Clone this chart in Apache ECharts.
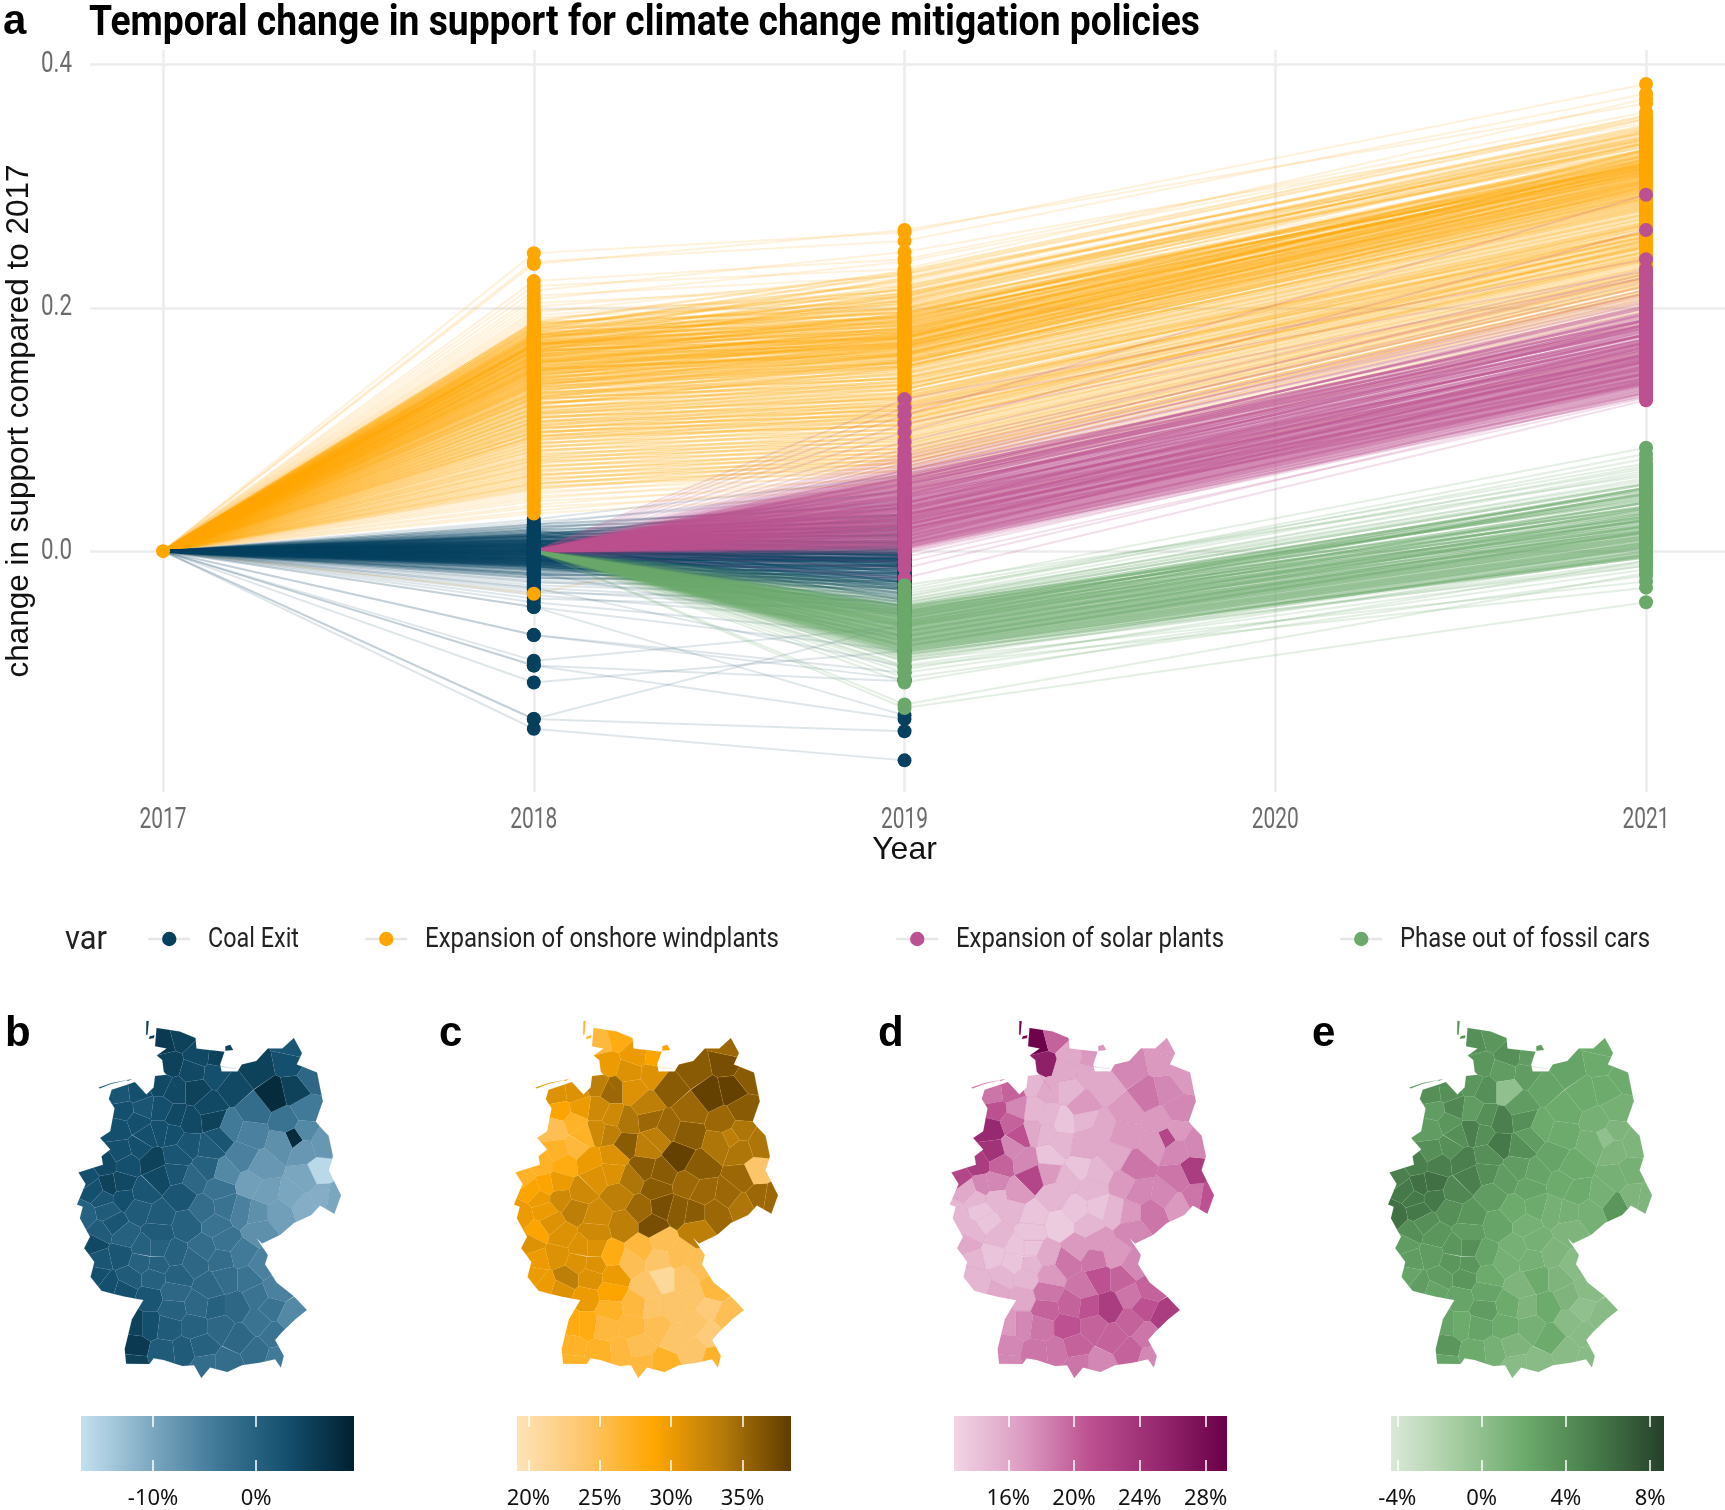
<!DOCTYPE html>
<html>
<head>
<meta charset="utf-8">
<style>html,body{margin:0;padding:0;background:#fff}#chart{width:1725px;height:1510px}</style>
<script src="https://cdn.jsdelivr.net/npm/echarts@6/dist/echarts.min.js"></script>
</head>
<body>
<div id="chart"></div>
<script>
// Change in support per district, in thousandths, relative to 2017.
// Wind: [2018, 2019, 2021]
const windFringe = [[245,262,384],[238,255,376],[236,264,368],[222,240,361],[218,232,372],[214,246,352],[210,226,344],[207,238,356],[204,218,338],[201,224,347],[198,209,340],[196,228,332],[194,214,335],[192,205,326],[190,220,341],[49,63,204],[47,70,208],[45,60,200],[43,66,205],[41,56,197],[38,62,202],[36,52,193],[33,58,198],[31,48,188],[-35,30,165]];
const windCore = [[188,199,322],[186,212,330],[184,203,318],[183,196,329],[181,208,336],[180,192,314],[178,201,325],[177,188,321],[176,197,317],[175,206,333],[173,185,312],[172,194,327],[171,182,309],[170,191,320],[169,199,316],[168,179,306],[167,187,323],[166,193,311],[165,176,304],[164,189,315],[163,183,319],[162,174,302],[161,186,313],[160,178,308],[159,195,328],[158,172,300],[157,181,310],[156,169,298],[155,177,305],[154,184,316],[153,167,296],[152,175,303],[151,171,307],[150,163,292],[149,179,312],[148,165,299],[147,172,301],[146,160,290],[145,168,297],[144,175,309],[143,158,288],[142,166,294],[141,170,304],[140,155,286],[139,163,293],[138,152,283],[137,161,291],[136,168,300],[135,150,281],[134,157,287],[133,147,278],[132,155,285],[131,162,295],[130,145,276],[129,152,282],[128,142,273],[127,149,280],[126,156,289],[125,139,270],[124,146,277],[122,136,268],[121,143,274],[120,151,284],[118,133,265],[117,140,271],[116,128,262],[114,137,269],[113,125,259],[112,133,266],[110,122,256],[109,130,263],[107,119,253],[106,127,260],[104,116,250],[103,124,258],[101,113,247],[100,121,255],[98,110,244],[97,118,251],[95,107,241],[94,115,249],[92,104,239],[91,112,246],[89,100,236],[88,108,243],[86,97,233],[85,105,240],[83,93,230],[82,101,238],[80,90,228],[78,98,234],[77,87,225],[75,95,231],[74,84,223],[72,92,228],[70,81,220],[69,88,226],[67,78,218],[65,85,224],[63,75,215],[62,82,221],[60,72,212],[58,79,218],[56,69,210],[55,76,214],[53,66,207],[51,73,212],[178,196,318],[174,192,322],[171,188,314],[169,190,325],[166,186,317],[164,183,312],[161,180,320],[159,178,310],[157,176,315],[155,173,306],[153,171,311],[151,169,302],[149,166,308],[147,164,298],[145,162,305],[143,160,296],[141,158,303],[139,156,293],[137,154,300],[135,152,290],[170,180,330],[165,175,326],[160,170,322],[155,168,318],[150,161,314],[175,200,335],[168,194,330],[162,190,324],[156,182,319],[148,176,316],[130,142,262],[126,137,258],[122,134,268],[118,130,254],[114,126,262],[110,120,250],[106,116,256],[102,112,246],[98,108,252],[94,103,242],[186,215,345],[184,222,350],[180,218,340],[178,210,344],[176,224,348],[172,212,338],[170,206,342],[182,228,355],[188,230,358],[174,216,346],[169,204,336],[165,210,339]];
// Coal: [2018, 2019]
const coalCore = [[14,30],[13,20],[12,26],[11,16],[10,22],[9,13],[8,18],[8,8],[7,14],[6,4],[6,11],[5,1],[5,8],[4,-2],[4,6],[3,-4],[3,3],[2,-1],[2,-7],[1,1],[1,-9],[0,-3],[0,-11],[-1,-1],[-1,-6],[-2,-13],[-2,-3],[-3,-8],[-3,-16],[-4,-5],[-4,-11],[-5,-19],[-5,-7],[-6,-14],[-6,-22],[-7,-9],[-7,-17],[-8,-25],[-8,-12],[-9,-20],[-10,-28],[-10,-15],[-11,-23],[-12,-31],[-13,-18],[-14,-26],[12,6],[9,2],[6,-4],[3,-10],[0,-6],[-3,-2],[-6,-8],[-9,-5],[-11,-12]];
const coalMid = [[22,38],[20,30],[18,24],[16,18],[15,12],[-15,-12],[-16,-20],[-18,-14],[-19,-22],[-20,-18],[-22,-25],[12,-18],[8,-22],[4,-25],[0,-28],[-4,-30],[-8,-32],[-12,-34],[10,-30],[6,-35],[2,-38],[-2,-40],[-6,-42],[-10,-45],[14,-26],[17,-14],[13,42],[10,50],[7,36],[4,28],[1,20],[-2,14],[-5,10],[-8,5],[-11,2],[-13,-6],[5,-32],[1,-45],[-3,-48],[-7,-36],[-12,-52],[9,-40]];
const coalFringe = [[26,62],[24,48],[22,55],[20,40],[19,34],[18,44],[17,28],[16,36],[15,24],[-15,-34],[-16,-21],[-17,-29],[-18,-37],[-19,-24],[-20,-32],[-21,-40],[-22,-27],[-24,-35],[-25,-43],[-26,-30],[-28,-38],[-30,-46],[-32,-52],[-34,-41],[-36,-60],[-39,-48],[-42,-70],[-46,-82],[-69,-100],[-90,-62],[-94,-107],[-108,-82],[-138,-60],[-146,-172],[-138,-148],[-94,-138],[-69,-105],[-46,-135],[-30,-95],[-18,-70],[-10,-50]];
// Solar: [2019, 2021]
const solarCore = [[60,194],[59,202],[57,190],[56,196],[55,187],[53,192],[52,183],[51,189],[50,180],[48,186],[47,177],[46,184],[45,174],[44,181],[42,171],[41,178],[40,168],[39,175],[38,166],[37,172],[36,164],[35,170],[34,162],[33,168],[32,160],[31,165],[30,158],[29,163],[28,156],[27,161],[26,154],[25,159],[24,152],[23,157],[22,150],[21,155],[20,148],[19,153],[18,146],[17,151],[16,144],[15,149],[14,142],[13,147],[12,140],[11,145],[10,138],[9,143],[8,136],[7,141],[6,134],[5,139],[4,132],[3,137],[2,130],[66,190],[63,186],[61,200],[58,182],[54,195],[49,178],[46,190],[43,174],[39,186],[36,170],[33,178],[30,162],[27,172],[24,158],[21,168],[18,152],[15,162],[12,146],[9,156],[6,140],[30,150],[26,146],[22,142],[18,138],[35,156],[40,160],[44,166],[50,172],[55,178],[60,184]];
const solarFringe = [[125,240],[118,230],[112,293],[105,225],[98,264],[90,232],[84,225],[78,218],[75,212],[72,206],[70,210],[68,201],[66,204],[64,197],[62,199],[0,135],[-2,128],[-5,133],[-9,126],[-14,130],[-22,124],[80,228],[76,222],[72,215],[69,212],[67,208],[64,205],[-1,131],[1,128],[3,127],[5,130]];
// Fossil cars: [2019, 2021]
const carsCore = [[-45,55],[-46,42],[-47,50],[-48,36],[-49,47],[-50,32],[-51,44],[-52,28],[-53,40],[-54,25],[-55,37],[-56,22],[-57,34],[-58,20],[-59,31],[-60,17],[-61,28],[-62,15],[-63,26],[-64,12],[-65,24],[-66,10],[-67,21],[-68,8],[-69,18],[-70,6],[-71,16],[-72,4],[-73,14],[-74,2],[-75,12],[-76,0],[-77,10],[-78,-2],[-79,7],[-80,-4],[-81,5],[-82,-5],[-83,3],[-85,-3],[-60,40],[-58,48],[-62,35],[-66,30],[-70,26],[-74,20],[-78,16],[-55,52],[-52,46],[-50,52]];
const carsFringe = [[-28,62],[-31,85],[-33,72],[-35,68],[-37,80],[-38,76],[-40,70],[-42,64],[-88,-10],[-91,0],[-94,-12],[-97,-3],[-100,-15],[-104,-20],[-108,-8],[-129,-42],[-126,-18],[-90,-25],[-95,-30],[-40,58],[-42,56],[-43,66],[-44,60],[-86,-5],[-87,0],[-84,-12],[-88,-8],[-90,4]];

const years = [2017, 2018, 2019, 2020, 2021];
const yTicks = [0, 0.2, 0.4];
const policyNames = ['Coal Exit', 'Expansion of onshore windplants', 'Expansion of solar plants', 'Phase out of fossil cars'];

// Districts, listed state by state; the arrays below run in the same order.
const districtNames = [
 'Nordfriesland','Flensburg','Kiel','Dithmarschen','Neumünster','Lübeck','Ostholstein',
 'Hamburg','Stade','Lüneburg','Cuxhaven','Bremen','Oldenburg','Wilhelmshaven','Aurich','Leer','Emsland','Cloppenburg','Vechta','Osnabrück','Diepholz','Verden','Heidekreis','Uelzen','Hannover','Nienburg','Hameln','Braunschweig','Wolfsburg','Göttingen','Goslar','Höxter',
 'Borken','Steinfurt','Münster','Bielefeld','Paderborn','Dortmund','Essen','Kleve','Krefeld','Düsseldorf','Aachen','Köln','Bonn','Euskirchen','Sauerland','Siegen','Hagen',
 'Kassel','Marburg','Fulda','Frankfurt','Wiesbaden','Darmstadt','Gießen',
 'Koblenz','Trier','Bitburg','Hunsrück','Mainz','Kaiserslautern','Pirmasens','Saarbrücken','Merzig',
 'Mannheim','Karlsruhe','Heilbronn','Odenwald','Stuttgart','Ostalb','Freudenstadt','Offenburg','Freiburg','Lörrach','Konstanz','Tübingen','Ulm','Ravensburg',
 'Würzburg','Aschaffenburg','Schweinfurt','Coburg','Bayreuth','Nürnberg','Ansbach','Bamberg','Amberg','Weiden','Regensburg','Cham','Ingolstadt','Augsburg','Donauwörth','Landshut','Straubing','Passau','Altötting','München','Memmingen','Kempten','Garmisch','Rosenheim','Berchtesgaden',
 'Erfurt','Eisenach','Nordhausen','Suhl','Jena','Gera',
 'Leipzig','Chemnitz','Plauen','Dresden','Bautzen','Görlitz','Meißen',
 'Magdeburg','Salzwedel','Stendal','Halle','Harz','Dessau',
 'Berlin','Cottbus','Elbe-Elster','Potsdam','Prignitz','Neuruppin','Uckermark','Frankfurt (Oder)','Barnim','Dahme',
 'Schwerin','Rostock','Müritz','Neubrandenburg','Vorpommern','Rügen','Usedom'];
const districtLon = [
 8.9,9.5,10.1,9.1,9.9,10.7,10.8,
 10.0,9.3,10.5,8.8,8.8,8.2,8.0,7.4,7.5,7.35,8.0,8.3,8.05,8.8,9.3,9.8,10.6,9.75,9.2,9.35,10.5,10.8,9.95,10.4,9.3,
 6.85,7.45,7.65,8.5,8.75,7.45,7.0,6.2,6.55,6.8,6.15,6.95,7.15,6.7,8.2,8.05,7.5,
 9.5,8.75,9.7,8.7,8.2,8.7,8.7,
 7.55,6.7,6.5,7.4,8.1,7.7,7.5,7.0,6.6,
 8.55,8.4,9.25,9.35,9.2,10.1,8.4,7.95,7.85,7.8,8.9,9.05,9.95,9.6,
 9.95,9.25,10.3,11.0,11.6,11.05,10.5,10.9,11.85,12.25,12.15,12.75,11.4,10.85,10.7,12.15,12.6,13.3,12.7,11.55,10.2,10.3,11.1,12.1,12.85,
 11.0,10.3,10.8,10.7,11.6,12.1,
 12.4,12.9,12.2,13.75,14.35,14.85,13.35,
 11.6,11.2,11.9,11.95,11.0,12.3,
 13.4,14.3,13.8,13.05,12.0,13.15,13.8,14.4,13.75,13.7,
 11.3,12.1,12.7,13.4,13.3,13.4,14.0];
const districtLat = [
 54.6,54.7,54.3,54.1,53.95,53.9,54.25,
 53.55,53.55,53.2,53.7,53.1,53.15,53.5,53.45,53.1,52.7,52.85,52.55,52.3,52.65,52.95,52.85,52.9,52.37,52.6,52.1,52.3,52.5,51.6,51.85,51.75,
 51.95,52.2,51.95,52.0,51.65,51.5,51.45,51.65,51.35,51.2,50.8,50.9,50.65,50.45,51.3,50.95,51.2,
 51.25,50.8,50.6,50.1,50.1,49.75,50.45,
 50.35,49.85,50.2,49.95,49.8,49.45,49.2,49.3,49.5,
 49.45,49.0,49.15,49.5,48.75,48.85,48.45,48.45,47.95,47.6,47.8,48.4,48.4,47.85,
 49.8,49.95,50.1,50.25,49.95,49.45,49.25,49.85,49.45,49.7,49.05,49.2,48.8,48.4,48.8,48.5,48.8,48.6,48.2,48.15,47.95,47.55,47.55,47.85,47.7,
 51.0,50.95,51.4,50.6,50.9,50.85,
 51.35,50.85,50.5,51.05,51.25,51.2,51.25,
 52.1,52.75,52.6,51.5,51.75,51.85,
 52.5,51.75,51.6,52.4,53.1,52.85,53.1,52.4,52.65,52.25,
 53.6,54.0,53.45,53.55,54.15,54.45,53.85];
// Change from 2017 to 2021 per district, percent.
const coalByDistrict = [
 6,5,4,5,4,3,5,
 5,4,4,4,3,2,3,2,3,3,3,3,3,3,4,4,5,2,3,2,1,2,-1,0,2,
 4,3,3,5,4,4,5,3,3,2,0,1,2,1,2,1,3,
 2,1,0,0,0,0,1,
 0,2,4,2,0,1,3,3,3,
 0,2,-1,0,0,-1,3,5,6,5,1,1,0,1,
 -1,0,-2,-3,-4,-2,-1,-2,-3,-5,-3,-5,-1,-1,0,-3,-3,-6,-3,-1,0,-2,-2,-2,-4,
 -3,-2,-3,-3,-5,-7,
 -9,-9,-7,-11,-11,-10,-10,
 -5,-4,-5,-9,-6,-8,
 8,-16,-10,-7,-2,-3,-4,-8,-6,-8,
 4,5,8,5,3,2,-1];
const windByDistrict = [
 26,28,30,30,31,31,29,
 31,35,33,33,32,30,31,31,29,25,27,27,26,32,32,34,35,36,33,31,33,33,34,36,31,
 27,27,28,30,31,30,29,27,29,30,30,30,31,29,32,33,32,
 33,32,33,31,31,31,32,
 31,30,31,31,31,33,31,30,30,
 31,30,29,30,27,26,28,28,27,27,27,26,26,26,
 25,28,26,25,25,21,24,24,24,25,24,26,24,25,24,24,23,25,23,24,25,26,27,24,27,
 37,35,36,37,36,36,
 35,35,33,34,35,35,35,
 38,35,36,35,36,36,
 33,24,35,34,35,35,36,34,34,34,
 36,36,38,38,37,35,36];
const solarByDistrict = [
 29,20,16,26,16,16,17,
 15,16,17,15,15,18,20,19,21,25,20,21,18,16,15,14,15,15,15,14,16,16,15,14,17,
 23,24,20,18,22,18,18,22,16,15,15,14,14,15,17,15,15,
 15,14,13.5,14,14,15,14,
 15,15,16,14,14,15,16,15,15,
 15,16,19,17,20,20,18,17,18,18,19,19,21,19,
 19,16,17,17,17,21,19,19,20,18,19,20,23,20,21,20,21,23,19,20,20,19,18,20,18,
 14,14,15,15,15,17,
 18,19,18,17,19,21,18,
 16,16,17,17,15,19,
 22,23,19,17,17,17,18,18,17,18,
 16,18,19,18,17,17,17];
const carsByDistrict = [
 4,3.5,4,3.5,3,3,3,
 0,4,3,3.5,3,4.5,4,4,3,3,3.5,4,4,5,4,5,4,5.5,4,4,4,3,3,3,4,
 5,4,5,5,5,6,6,5,5.5,5.5,6,5.5,4,4,4.5,4,5.5,
 3,3.5,2.5,4,3.5,3.5,3,
 3.5,3,3,3,3.5,3,2.5,3,2.5,
 3.5,2.5,2.5,2,3,2,2,2.5,3.5,2.5,2,2.5,2,1.5,
 1.5,2.5,1.5,1.5,1,2,1,1.5,1,0.5,1,0.5,2,1.5,1,0.5,0,0.5,0.5,2,1,0.5,0.5,0.5,0.5,
 2,2,2.5,1.5,1.5,1.5,
 2,1.5,1,3.5,1,1,1.5,
 2.5,2,2,2,2.5,2,
 0,1.5,1.5,1.5,2,1.5,1.5,1,1,1,
 2.5,2.5,2,2,2,2,2];

// Coastline and national border, lon/lat.
const germanyMainland = [[8.65,54.9],[9.45,54.82],[10.0,54.68],[10.03,54.45],[10.3,54.43],[11.0,54.38],[10.85,54.1],[10.9,53.95],[11.45,53.95],[11.6,54.1],[12.1,54.18],[12.5,54.45],[13.0,54.45],[13.4,54.68],[13.68,54.35],[13.5,54.1],[14.2,53.93],[14.4,53.3],[14.15,52.85],[14.6,52.55],[14.75,52.1],[14.6,51.8],[15.03,51.25],[14.8,50.85],[14.3,51.03],[14.0,50.82],[13.4,50.65],[12.95,50.4],[12.3,50.2],[12.1,50.32],[12.5,49.95],[12.4,49.75],[12.8,49.35],[13.4,49.05],[13.85,48.75],[13.45,48.55],[13.0,48.28],[12.75,48.1],[13.05,47.75],[12.95,47.5],[12.75,47.68],[12.2,47.6],[11.6,47.55],[11.1,47.4],[10.5,47.5],[10.2,47.27],[9.95,47.55],[9.55,47.53],[8.9,47.66],[8.55,47.7],[8.4,47.57],[7.6,47.58],[7.55,47.9],[7.8,48.55],[8.2,48.97],[7.5,49.05],[6.75,49.17],[6.37,49.47],[6.5,49.8],[6.15,50.1],[6.35,50.35],[6.0,50.75],[6.1,51.0],[5.9,51.05],[6.2,51.5],[5.95,51.75],[6.8,51.92],[6.75,52.1],[7.05,52.25],[6.7,52.5],[7.05,52.65],[7.2,53.15],[7.0,53.35],[7.1,53.55],[7.9,53.72],[8.15,53.55],[8.3,53.45],[8.55,53.6],[8.6,53.85],[9.0,53.88],[9.4,53.55],[8.9,53.95],[8.85,54.2],[8.65,54.3],[9.0,54.45],[8.6,54.5]];
const germanyIslands = [
 [[8.3,55.05],[8.38,55.05],[8.34,54.75],[8.29,54.75]],
 [[8.42,54.72],[8.58,54.74],[8.56,54.68],[8.38,54.66]],
 [[6.65,53.6],[7.1,53.7],[7.8,53.78],[7.8,53.76],[7.1,53.68],[6.68,53.58]],
 [[11.03,54.4],[11.3,54.42],[11.2,54.53],[11.03,54.5]]
];

// Colour ramps and scale limits for the four maps, ticks for their colour bars.
const coalRamp = ['#c4e1ef','#7ea9c2','#3f7897','#15506f','#00202f'];
const windRamp = ['#fde3b8','#fdc56a','#ffa600','#b57a0a','#5e3c00'];
const solarRamp = ['#f1d6e5','#dc9cc2','#bc5090','#96286f','#6a0048'];
const carsRamp = ['#dbe9d8','#a3cb9f','#6aa96a','#467a4a','#26402a'];
const coalRange = [-17, 9.5], windRange = [19.2, 38.4], solarRange = [12.7, 29.3], carsRange = [-4.3, 8.66];
const coalTicks = [-10, 0], windTicks = [20, 25, 30, 35], solarTicks = [16, 20, 24, 28], carsTicks = [-4, 0, 4, 8];

const colors = { coal: '#05405f', wind: '#ffa600', solar: '#bc5090', cars: '#6aa96a' };

// Districts are Voronoi cells of their centres, cut from the national outline.
const kx = 0.63;
function cutHalfPlane(poly, a, b, c) {
  const out = [];
  for (let i = 0; i < poly.length; i++) {
    const p = poly[i], q = poly[(i + 1) % poly.length];
    const dp = a * p[0] + b * p[1] - c, dq = a * q[0] + b * q[1] - c;
    if (dp <= 0) out.push(p);
    if ((dp < 0 && dq > 0) || (dp > 0 && dq < 0)) {
      const t = dp / (dp - dq);
      out.push([p[0] + t * (q[0] - p[0]), p[1] + t * (q[1] - p[1])]);
    }
  }
  return out;
}
function districtFeature(i) {
  const xi = districtLon[i], yi = districtLat[i];
  const rings = [];
  [germanyMainland].concat(germanyIslands).forEach(ring => {
    let poly = ring;
    for (let j = 0; j < districtLon.length && poly.length; j++) {
      if (j === i) continue;
      const xj = districtLon[j], yj = districtLat[j];
      const a = (xj - xi) * kx * kx, b = yj - yi;
      const c = ((xj * xj - xi * xi) * kx * kx + yj * yj - yi * yi) / 2;
      poly = cutHalfPlane(poly, a, b, c);
    }
    if (poly.length > 2) rings.push([poly]);
  });
  return { type: 'Feature', properties: { name: districtNames[i] }, geometry: { type: 'MultiPolygon', coordinates: rings } };
}
function districtMap() {
  return { type: 'FeatureCollection', features: districtNames.map((_, i) => districtFeature(i)) };
}

const panels = [
  { key: 'b', map: 'kreise-b', x: 77, values: coalByDistrict, ramp: coalRamp, range: coalRange, ticks: coalTicks, barX: 81, barW: 273, letterX: 5 },
  { key: 'c', map: 'kreise-c', x: 514, values: windByDistrict, ramp: windRamp, range: windRange, ticks: windTicks, barX: 517, barW: 274, letterX: 439 },
  { key: 'd', map: 'kreise-d', x: 950, values: solarByDistrict, ramp: solarRamp, range: solarRange, ticks: solarTicks, barX: 954, barW: 273, letterX: 878 },
  { key: 'e', map: 'kreise-e', x: 1388, values: carsByDistrict, ramp: carsRamp, range: carsRange, ticks: carsTicks, barX: 1391, barW: 273, letterX: 1312 }
];
panels.forEach(p => echarts.registerMap(p.map, districtMap()));

const series = [];
panels.forEach(p => series.push({
  type: 'map', map: p.map, left: p.x, top: 1021, width: 264, height: 357, aspectScale: kx,
  silent: true, showLegendSymbol: false, label: { show: false }, emphasis: { disabled: true }, select: { disabled: true },
  itemStyle: { borderWidth: 0.6, borderColor: p.ramp[2] + '30' },
  data: districtNames.map((n, i) => ({ name: n, value: p.values[i] }))
}));

function traceSeries(name, color, points, alpha, width) {
  return {
    type: 'line', name, data: points, silent: true, animation: false, symbol: 'circle', showSymbol: false,
    lineStyle: { color, width, opacity: alpha }, z: 3
  };
}
const milli = v => v / 1000;
const windLine = t => [[2017, 0], [2018, milli(t[0])], [2019, milli(t[1])], [2021, milli(t[2])]];
const coalLine = t => [[2017, 0], [2018, milli(t[0])], [2019, milli(t[1])]];
const lateLine = t => [[2018, 0], [2019, milli(t[0])], [2021, milli(t[1])]];
windFringe.forEach(t => series.push(traceSeries(policyNames[1], colors.wind, windLine(t), 0.14, 2)));
windCore.forEach(t => series.push(traceSeries(policyNames[1], colors.wind, windLine(t), 0.27, 2.5)));
coalFringe.forEach(t => series.push(traceSeries(policyNames[0], colors.coal, coalLine(t), 0.13, 2)));
coalMid.forEach(t => series.push(traceSeries(policyNames[0], colors.coal, coalLine(t), 0.28, 2)));
coalCore.forEach(t => series.push(traceSeries(policyNames[0], colors.coal, coalLine(t), 0.42, 2.5)));
solarFringe.forEach(t => series.push(traceSeries(policyNames[2], colors.solar, lateLine(t), 0.18, 2)));
solarCore.forEach(t => series.push(traceSeries(policyNames[2], colors.solar, lateLine(t), 0.42, 2.5)));
carsFringe.forEach(t => series.push(traceSeries(policyNames[3], colors.cars, lateLine(t), 0.18, 2)));
carsCore.forEach(t => series.push(traceSeries(policyNames[3], colors.cars, lateLine(t), 0.45, 2.5)));

function dots(color, points) {
  return { type: 'scatter', name: 'dots', data: points, symbol: 'circle', symbolSize: 14, silent: true, animation: false, itemStyle: { color, opacity: 1 }, z: 4 };
}
const coalAll = coalFringe.concat(coalMid, coalCore), windAll = windFringe.concat(windCore);
const solarAll = solarFringe.concat(solarCore), carsAll = carsFringe.concat(carsCore);
series.push(dots(colors.coal, coalAll.flatMap(t => [[2018, milli(t[0])], [2019, milli(t[1])]])));
series.push(dots(colors.wind, [[2017, 0]].concat(windAll.flatMap(t => [[2018, milli(t[0])], [2019, milli(t[1])], [2021, milli(t[2])]]))));
series.push(dots(colors.solar, solarAll.flatMap(t => [[2019, milli(t[0])], [2021, milli(t[1])]])));
series.push(dots(colors.cars, carsAll.flatMap(t => [[2019, milli(t[0])], [2021, milli(t[1])]])));

// Axes: the main panel comes first, then a lower and an upper axis per colour bar.
const grids = [{ left: 90, right: 0, top: 50, height: 742, outerBoundsMode: 'none' }];
const xAxes = [{
  type: 'value', gridIndex: 0, min: 2016.803, max: 2021.213,
  name: 'Year', nameLocation: 'middle', nameGap: 42, nameMoveOverlap: false, nameTextStyle: { fontFamily: 'Liberation Sans', fontSize: 32, color: '#111', padding: [0, 6, 0, 0] },
  axisLine: { show: false },
  axisTick: { show: false, customValues: years },
  axisLabel: { show: false, customValues: years },
  splitLine: { show: true, lineStyle: { color: '#ececec', width: 2.5 } }
}];
const yAxes = [{
  type: 'value', gridIndex: 0, min: -0.198, max: 0.412,
  name: 'change in support compared to 2017', nameLocation: 'middle', nameGap: 55, nameMoveOverlap: false, nameTextStyle: { fontFamily: 'Liberation Sans', fontSize: 31.5, color: '#111' },
  axisLine: { show: false },
  axisTick: { show: false, customValues: yTicks },
  axisLabel: { show: false, customValues: yTicks },
  splitLine: { show: true, lineStyle: { color: '#ececec', width: 2.5 } }
}];
const visualMaps = [];
panels.forEach((p, i) => {
  const gi = grids.length;
  grids.push({
    show: true, left: p.barX, width: p.barW, top: 1416, height: 55, borderWidth: 0, outerBoundsMode: 'none',
    backgroundColor: new echarts.graphic.LinearGradient(0, 0, 1, 0, p.ramp.map((c, k) => ({ offset: k / (p.ramp.length - 1), color: c })))
  });
  const tickStyle = { show: true, inside: true, length: 11, customValues: p.ticks, lineStyle: { color: '#fff', width: 1.5 } };
  xAxes.push({
    type: 'value', gridIndex: gi, position: 'bottom', min: p.range[0], max: p.range[1],
    axisLine: { show: false }, splitLine: { show: false }, axisTick: tickStyle,
    axisLabel: { customValues: p.ticks, margin: 17, color: '#111', fontFamily: 'Noto Sans', fontSize: 22, formatter: v => v + '%', showMinLabel: true, showMaxLabel: true }
  });
  xAxes.push({
    type: 'value', gridIndex: gi, position: 'top', min: p.range[0], max: p.range[1],
    axisLine: { show: false }, splitLine: { show: false }, axisTick: tickStyle, axisLabel: { show: false }
  });
  yAxes.push({ type: 'value', gridIndex: gi, show: false, splitLine: { show: false } });
  visualMaps.push({ show: false, seriesIndex: i, min: p.range[0], max: p.range[1], inRange: { color: p.ramp } });
});

const legendLeft = [142, 359, 890, 1334];
const legendTextX = [208, 425, 956, 1400];
const legendTextWidth = [91, 354, 268, 250];
const legendColors = [colors.coal, colors.wind, colors.solar, colors.cars];
const legends = policyNames.map((n, i) => ({
  data: [n], left: legendLeft[i], top: 925, itemWidth: 42, itemHeight: 18, selectedMode: false, formatter: () => '',
  lineStyle: { color: '#e6e6e6', width: 2.5, opacity: 1 }, itemStyle: { color: legendColors[i], opacity: 1 }
}));

// The label face is condensed; a narrowing factor brings each string to its set width.
const measurer = document.createElement('canvas').getContext('2d');
function squeezed(text, x, y, family, size, weight, color, align, width) {
  measurer.font = weight + ' ' + size + 'px ' + family;
  const scaleX = width ? width / measurer.measureText(text).width : 1;
  return {
    type: 'text', x, y, scaleX, silent: true,
    style: { text, fontFamily: family, fontSize: size, fontWeight: weight, fill: color, align, verticalAlign: 'middle' }
  };
}

const chart = echarts.init(document.getElementById('chart'), null, { renderer: 'canvas' });
chart.setOption({
  animation: false,
  backgroundColor: '#fff',
  grid: grids, xAxis: xAxes, yAxis: yAxes, visualMap: visualMaps, legend: legends, series
});

// Tick labels are placed through the axis scales.
const xTickLabels = years.map(v => squeezed(String(v), chart.convertToPixel({ xAxisIndex: 0 }, v), 820, 'Roboto', 30, 'normal', '#6b6b6b', 'center', 47));
const yTickLabels = yTicks.map(v => squeezed(v.toFixed(1), 72, chart.convertToPixel({ yAxisIndex: 0 }, v), 'Roboto', 30, 'normal', '#6b6b6b', 'right', 31));
chart.setOption({
  graphic: [
    squeezed('a', 3, 22, 'Liberation Sans', 42, 'bold', '#000', 'left'),
    squeezed('Temporal change in support for climate change mitigation policies', 89, 24, 'Roboto', 42, 'bold', '#000', 'left', 1111),
    squeezed('var', 65, 941, 'Roboto', 33, 'normal', '#222', 'left', 42)
  ].concat(
    xTickLabels, yTickLabels,
    policyNames.map((n, i) => squeezed(n, legendTextX[i], 940, 'Roboto', 28, 'normal', '#222', 'left', legendTextWidth[i])),
    panels.map(p => squeezed(p.key, p.letterX, 1034, 'Liberation Sans', 42, 'bold', '#000', 'left'))
  )
});
</script>
</body>
</html>
